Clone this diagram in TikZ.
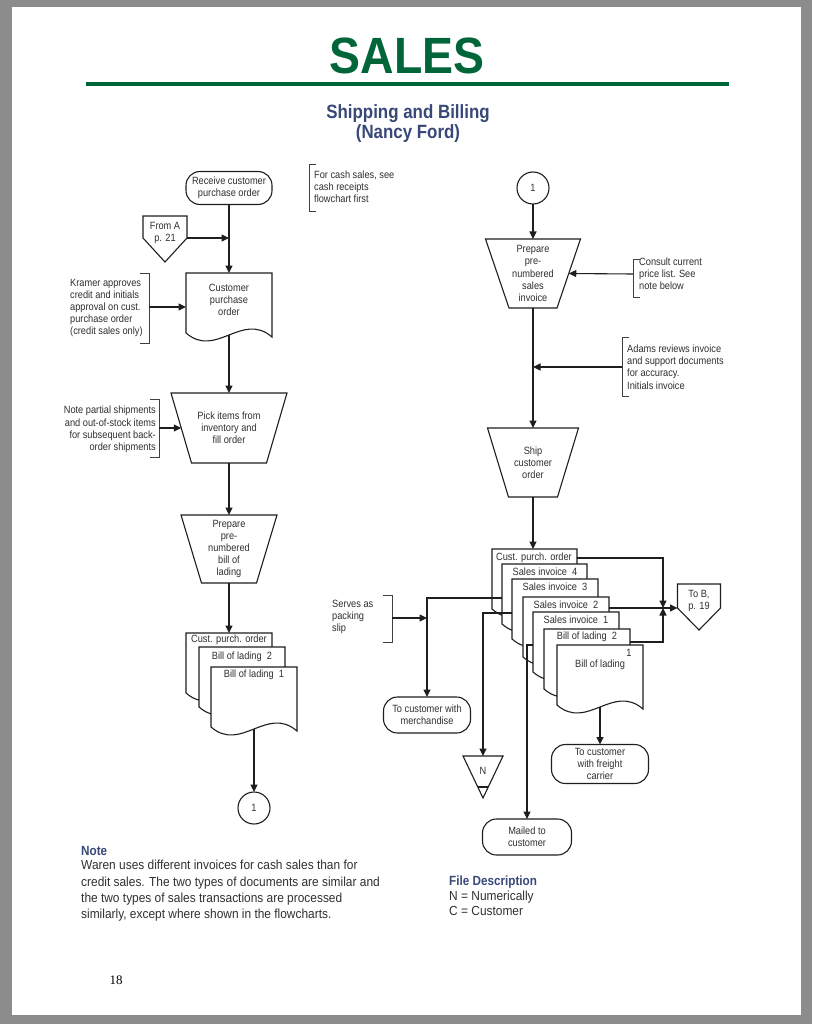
\documentclass[tikz,border=0pt]{standalone}
\usepackage{fontspec}
\setmainfont{Liberation Sans}
\newfontfamily\pgserif{Liberation Serif}
\newfontfamily\nsans[FakeStretch=0.88]{Liberation Sans}
\newfontfamily\msans[FakeStretch=0.91]{Liberation Sans}
\usetikzlibrary{calc,arrows.meta}
\definecolor{salesgreen}{HTML}{00663A}
\definecolor{headblue}{HTML}{384878}
\definecolor{ink}{HTML}{1E1E1E}
\definecolor{txtc}{HTML}{303030}
\definecolor{pagegray}{HTML}{8C8C8C}
\tikzset{
  flow/.style={draw=ink, line width=1.1pt},
  arr/.style={flow, -{Triangle[length=7.5pt,width=7pt]}},
  brk/.style={draw=ink!85, line width=0.9pt},
  lbl/.style={font=\nsans\fontsize{10.5}{12.2}\selectfont, text=txtc, align=center, inner sep=0pt},
  lbll/.style={lbl, align=left},
  lblr/.style={lbl, align=right},
  frame/.style={draw=none, inner sep=0pt, outer sep=0pt, rectangle},
  term/.style={lbl, draw=ink, line width=1.1pt, rounded corners=14pt, fill=white, outer sep=0pt},
  conn/.style={lbl, circle, draw=ink, line width=1.1pt, minimum size=32pt, outer sep=0pt},
}
% document shape: name, x-left, y-top, width, height
\newcommand{\mkdoc}[5]{%
  \node[frame, minimum width=#4pt, minimum height=#5pt, anchor=north west] (#1) at (#2,#3) {};
  \draw[flow, fill=white] (#1.north west) -- (#1.north east) -- ($(#1.south east)+(0,4)$)
    .. controls ($(#1.south east)+({-0.35*#4},-22)$) and ($(#1.south west)+({0.35*#4},26)$) .. (#1.south west) -- cycle;
  \coordinate (#1-b) at ($(#1.south)+(0,2)$);
}
% manual operation: name, cx, ytop, wtop, wbot, h, text
\newcommand{\mktrap}[7]{%
  \node[lbl, frame, minimum width=#4pt, minimum height=#6pt, anchor=north] (#1) at (#2,#3) {#7};
  \draw[flow] (#1.north west) -- (#1.north east) -- ($(#1.south east)+({-(#4-#5)/2},0)$) -- ($(#1.south west)+({(#4-#5)/2},0)$) -- cycle;
  \coordinate (#1-w) at ($(#1.west)+({(#4-#5)/4},0)$);
  \coordinate (#1-e) at ($(#1.east)+({-(#4-#5)/4},0)$);
}
% off-page connector: name, cx, ytop, w, hcorner, hpoint
\newcommand{\mkoff}[6]{%
  \node[frame, minimum width=#4pt, minimum height=#5pt, anchor=north] (#1) at (#2,#3) {};
  \draw[flow, fill=white] (#1.north west) -- (#1.north east) -- (#1.south east) -- ($(#1.north)+(0,#6)$) -- (#1.south west) -- cycle;
}
\begin{document}
\begin{tikzpicture}[x=1pt,y=-1pt]
\useasboundingbox (0,0) rectangle (812,1024);
\fill[pagegray] (0,0) rectangle (812,1024);
\fill[white] (12,7) rectangle (801,1015);

% ---------- header ----------
\node[font=\msans\fontsize{51}{51}\selectfont\bfseries, text=salesgreen, inner sep=0pt] (title) at (407,56) {SALES};
\draw[salesgreen, line width=4pt] (86,84) -- (729,84);
\node[font=\nsans\fontsize{19.2}{20}\selectfont\bfseries, text=headblue, align=center, inner sep=0pt] (sub) at (408,124) {Shipping and Billing\\(Nancy Ford)};

% ---------- left column ----------
\node[term, minimum width=86pt, minimum height=33pt] (recv) at (229,188) {Receive customer\\purchase order};

\draw[brk] (316,164) -- (309,164) -- (309,211) -- (316,211);
\node[lbll, anchor=west] (note1) at (314,187) {For cash sales, see\\cash receipts\\flowchart first};

\mkoff{fromA}{165}{216}{44}{22}{46}
\node[lbl] (fromA-t) at (165,233) {From A\\p. 21};

\mkdoc{cpo}{186}{273}{86}{60}
\node[lbl] (cpo-t) at (229,300) {Customer\\purchase\\order};

\draw[brk] (140,273) -- (149,273) -- (149,343) -- (140,343);
\node[lbll, anchor=west] (note2) at (70,308) {Kramer approves\\credit and initials\\approval on cust.\\purchase order\\(credit sales only)};

\mktrap{pick}{229}{393}{116}{75}{70}{Pick items from\\inventory and\\fill order}

\draw[brk] (150,399) -- (159,399) -- (159,457) -- (150,457);
\node[lblr, anchor=east] (note3) at (156,429.5) {Note partial shipments\\and out-of-stock items\\for subsequent back-\\order shipments};

\mktrap{bol}{229}{515}{96}{55}{68}{Prepare\\pre-\\numbered\\bill of\\lading}

\mkdoc{ls1}{186}{633}{86}{60}
\node[lbl] (ls1-t) at (229,640) {Cust. purch. order};
\mkdoc{ls2}{199}{647}{86}{60}
\node[lbl] (ls2-t) at (242,657) {Bill of lading~~2};
\mkdoc{ls3}{211}{667}{86}{60}
\node[lbl] (ls3-t) at (254,675) {Bill of lading~~1};

\node[conn] (c1a) at (254,808) {1};

% ---------- right column ----------
\node[conn] (c1b) at (533,188) {1};

\mktrap{inv}{533}{239}{95}{48}{69}{Prepare\\pre-\\numbered\\sales\\invoice}

\draw[brk] (640,259) -- (633,259) -- (633,297) -- (640,297);
\node[lbll, anchor=west] (note4) at (639,274) {Consult current\\price list. See\\note below};

\draw[brk] (629,337) -- (622,337) -- (622,396) -- (629,396);
\node[lbll, anchor=west] (note5) at (627,367) {Adams reviews invoice\\and support documents\\for accuracy.\\Initials invoice};

\mktrap{ship}{533}{428}{91}{49}{69}{Ship\\customer\\order}

\mkdoc{rsA}{492}{549}{85}{60}
\node[lbl] (rsA-t) at (534,558) {Cust. purch. order};
\mkdoc{rsB}{502}{564}{85}{60}
\node[lbl] (rsB-t) at (545,572) {Sales invoice~~4};
\mkdoc{rsC}{512}{579}{86}{60}
\node[lbl] (rsC-t) at (555,587) {Sales invoice~~3};
\mkdoc{rsD}{523}{597}{86}{60}
\node[lbl] (rsD-t) at (566,605) {Sales invoice~~2};
\mkdoc{rsE}{533}{612}{86}{60}
\node[lbl] (rsE-t) at (576,620) {Sales invoice~~1};
\mkdoc{rsF}{544}{629}{86}{60}
\node[lbl] (rsF-t) at (587,637) {Bill of lading~~2};
\mkdoc{rsG}{557}{645}{86}{60}
\node[lbl] (rsG-n) at (629,653) {1};
\node[lbl] (rsG-t) at (600,665) {Bill of lading};

\mkoff{toB}{699}{584}{43}{24}{46}
\node[lbl] (toB-t) at (699,601) {To B,\\p. 19};

\draw[brk] (383,595) -- (392,595) -- (392,642) -- (383,642);
\node[lbll, anchor=west] (note6) at (332,617) {Serves as\\packing\\slip};

\node[term, minimum width=87pt, minimum height=36pt] (tcm) at (427,715) {To customer with\\merchandise};
\node[term, minimum width=89pt, minimum height=36pt] (mail) at (527,837) {Mailed to\\customer};
\node[term, minimum width=97pt, minimum height=39pt] (frt) at (600,764) {To customer\\with freight\\carrier};

\node[frame, minimum width=40pt, minimum height=42pt, anchor=north] (nfile) at (483,756) {};
\draw[flow, fill=white] (nfile.north west) -- (nfile.north east) -- (nfile.south) -- cycle;
\draw[flow] ($(nfile.north west)!0.738!(nfile.south)$) -- ($(nfile.north east)!0.738!(nfile.south)$);
\node[lbl] (nfile-t) at (483,771) {N};

% ---------- connectors ----------
\draw[arr] (recv.south) -- (cpo.north);
\draw[arr] (fromA.south east) -- (fromA.south east -| recv.south);
\coordinate (krB) at (149,307);
\draw[arr] (krB) -- (krB -| cpo.west);
\draw[arr] (cpo-b) -- (pick.north);
\coordinate (ptB) at (159,428);
\draw[arr] (ptB) -- (pick-w);
\draw[arr] (pick.south) -- (bol.north);
\draw[arr] (bol.south) -- (ls1.north);
\draw[arr] (ls3-b) -- (c1a.north);

\draw[arr] (c1b.south) -- (inv.north);
\coordinate (csB) at (633,274);
\draw[arr] (csB) -- (inv-e);
\draw[arr] (inv.south) -- (ship.north);
\coordinate (adB) at (622,367);
\draw[arr] (adB) -- (adB -| inv.south);
\draw[arr] (ship.south) -- (ship.south |- rsA.north);

\coordinate (jn) at (663,608);
\draw[arr] ($(rsA.north east)+(0,9)$) -| (jn);
\draw[arr] ($(rsF.north east)+(0,13)$) -| (jn);
\draw[arr] (rsD.north east |- toB.south west) -- (toB.south west);

\coordinate (psB) at (392,618);
\draw[arr] (psB) -- (psB -| tcm.north);
\draw[arr] ($(rsB.north west)+(0,34)$) -| (tcm.north);
\draw[arr] ($(rsC.north west)+(0,34)$) -| (nfile.north);
\draw[arr] ($(rsE.north west)+(0,33)$) -| (mail.north);
\draw[arr] (rsG-b) -- (frt.north);

% ---------- notes ----------
\node[font=\nsans\fontsize{13.3}{14}\selectfont\bfseries, text=headblue, anchor=west, inner sep=0pt] (noteh) at (81,851) {Note};
\node[font=\msans\fontsize{13.1}{16.3}\selectfont, text=txtc, align=left, anchor=north west, inner sep=0pt] (notet) at (81,860) {Waren uses different invoices for cash sales than for\\credit sales. The two types of documents are similar and\\the two types of sales transactions are processed\\similarly, except where shown in the flowcharts.};

\node[font=\nsans\fontsize{13.3}{14}\selectfont\bfseries, text=headblue, anchor=west, inner sep=0pt] (fdh) at (449,882) {File Description};
\node[font=\msans\fontsize{13.1}{15}\selectfont, text=txtc, align=left, anchor=north west, inner sep=0pt] (fdt) at (449,891) {N = Numerically\\C = Customer};

\node[font=\pgserif\fontsize{13}{13}\selectfont, text=black, inner sep=0pt] (pg) at (116,980) {18};
\end{tikzpicture}
\end{document}
